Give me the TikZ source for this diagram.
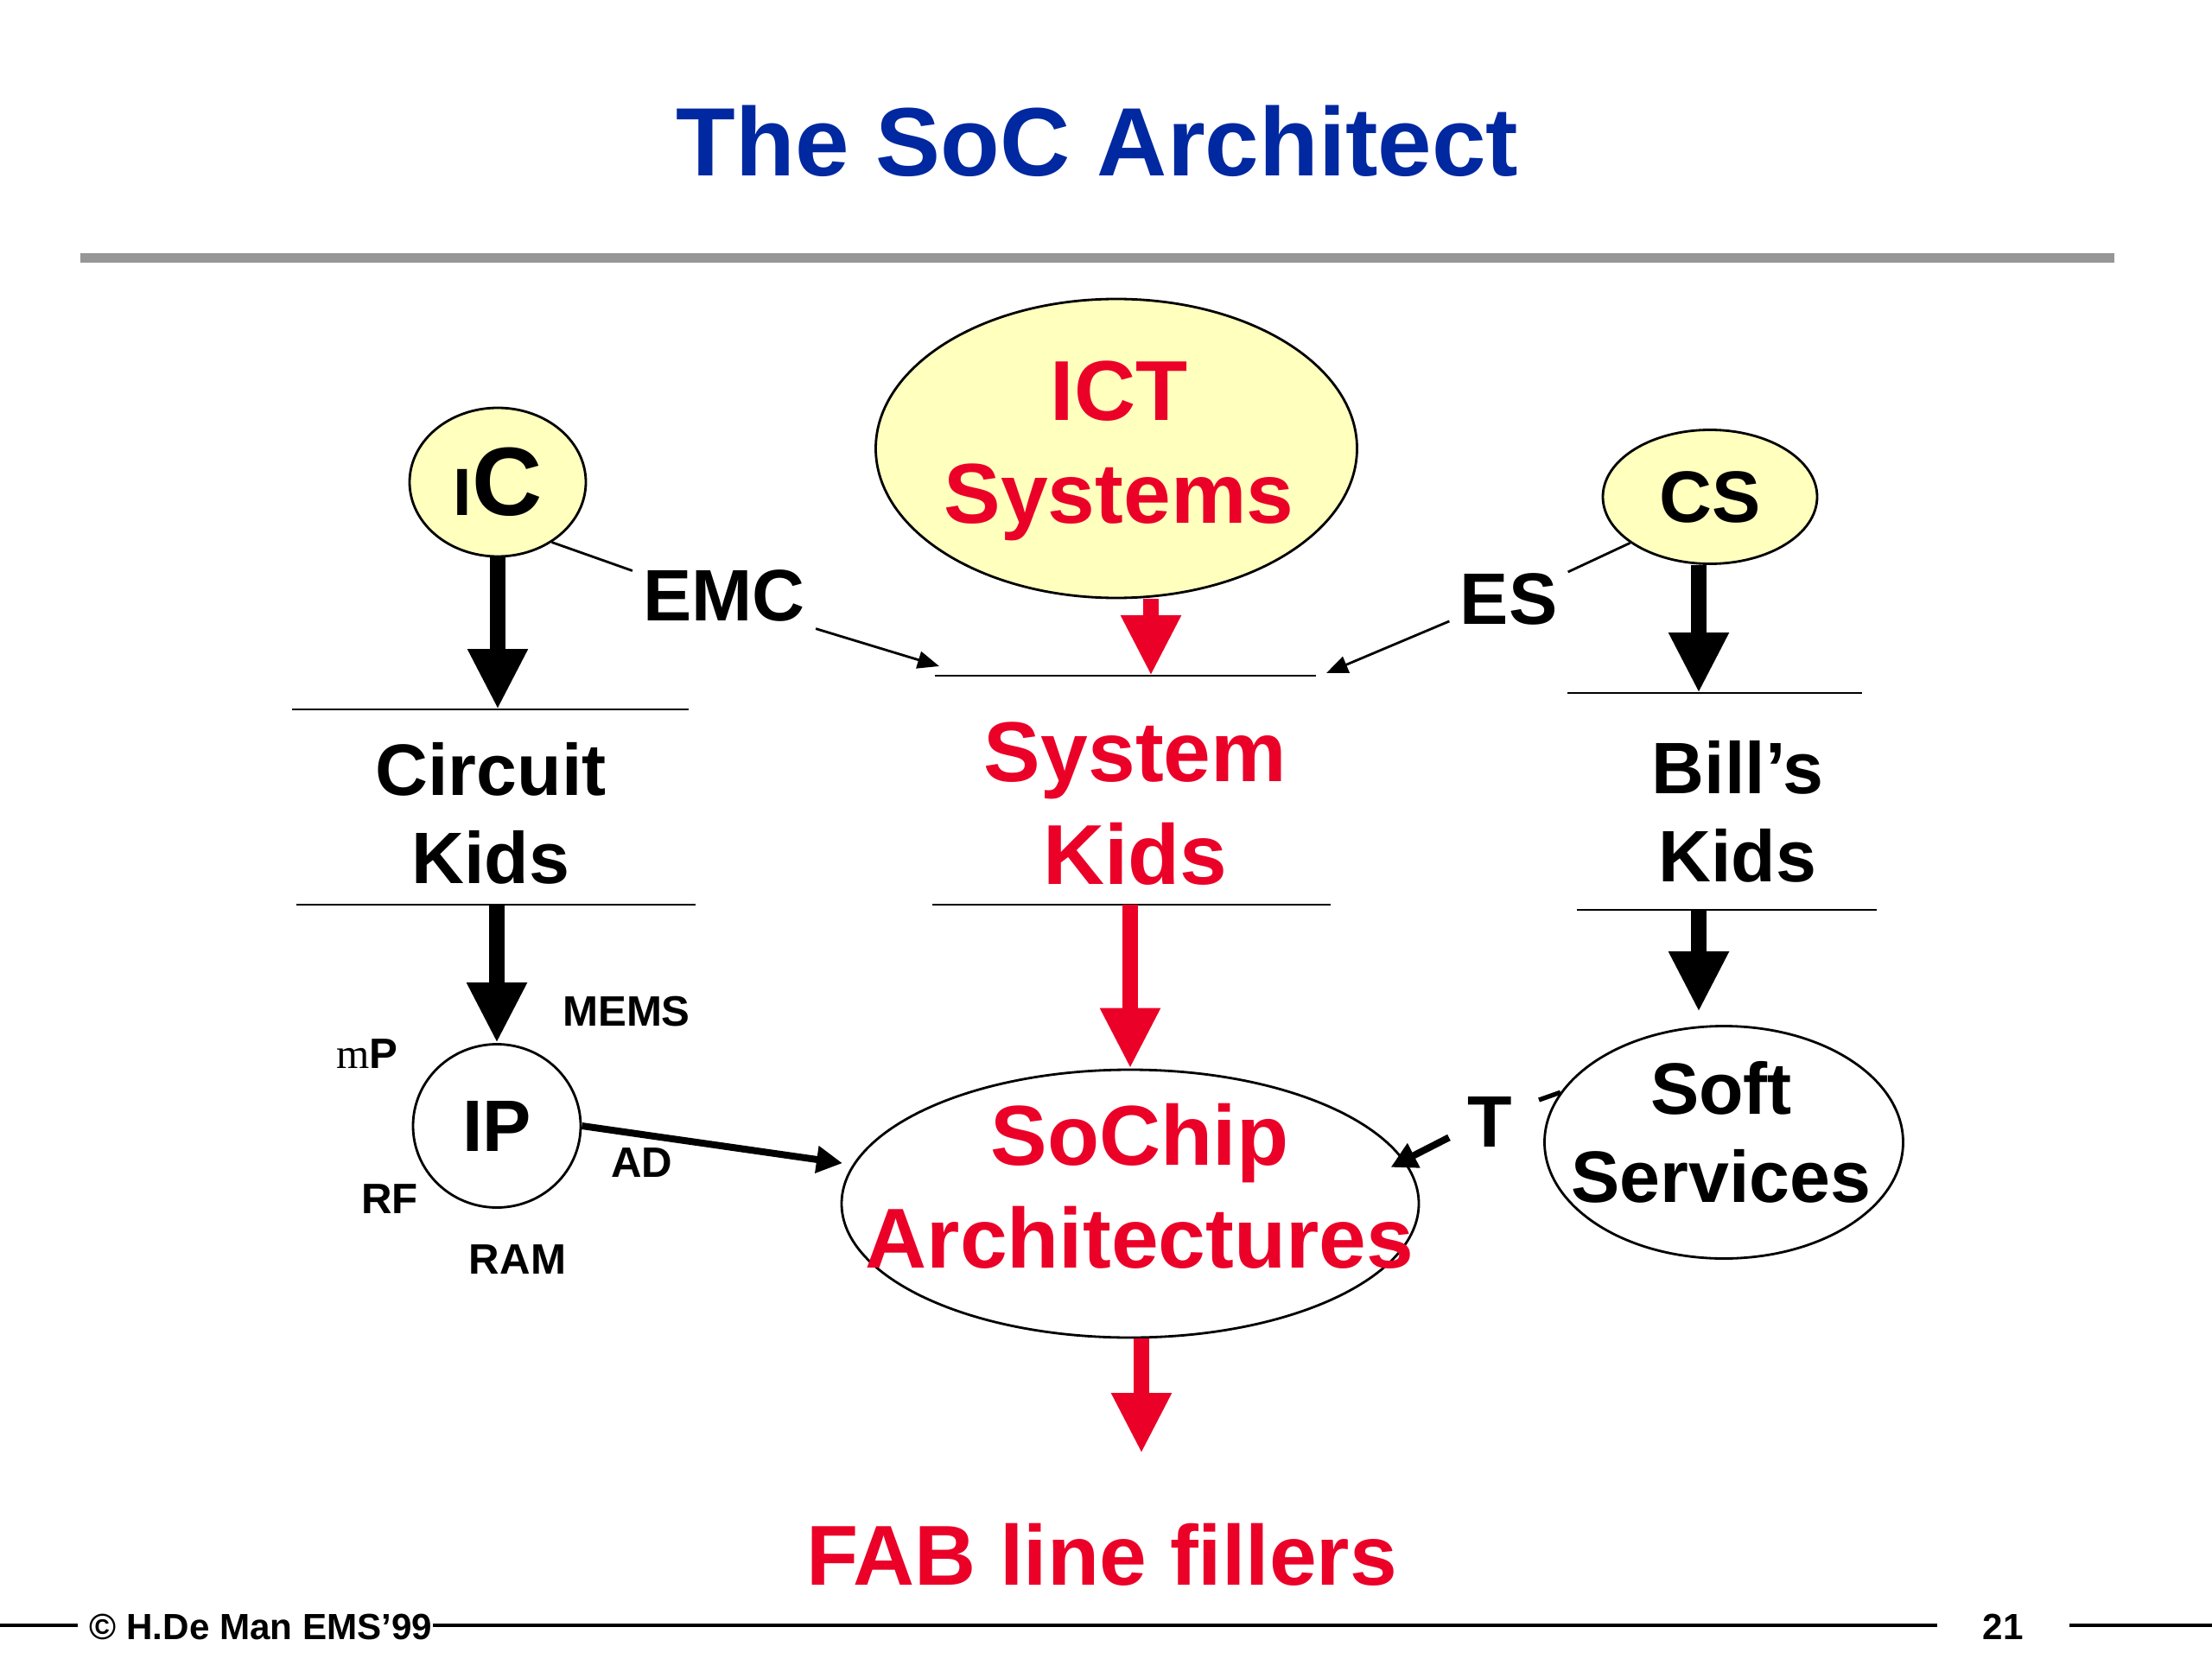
\documentclass[tikz,border=0pt]{standalone}
\usepackage{fontspec}
\setmainfont{Liberation Sans}
\newfontfamily\serifm{Liberation Serif}
\usetikzlibrary{positioning,arrows.meta,shapes.geometric}
\definecolor{titleblue}{RGB}{0,40,160}
\definecolor{kidred}{RGB}{235,0,40}
\definecolor{ovalyellow}{RGB}{255,255,190}
\definecolor{rulegray}{RGB}{150,150,150}
\tikzset{
  oval/.style  = {draw, ellipse, inner sep=0pt, line width=0.8pt, align=center},
  yoval/.style = {oval, fill=ovalyellow},
  big/.style   = {font=\fontsize{28}{34}\selectfont\bfseries, align=center},
  mid/.style   = {font=\fontsize{24}{29}\selectfont\bfseries, align=center},
  small/.style = {font=\fontsize{14}{17}\selectfont\bfseries, anchor=base, inner sep=0pt},
  rule/.style  = {line width=0.8pt},
  fat/.style   = {line width=0.18cm, -{Triangle[width=0.65cm,length=0.7cm]}},
  thin/.style  = {line width=0.8pt, -{Triangle[width=0.2cm,length=0.25cm]}},
  med/.style   = {line width=0.08cm, -{Triangle[width=0.3cm,length=0.3cm]}},
}

\begin{document}
\begin{tikzpicture}
  \useasboundingbox (0,0) rectangle (25.6,-19.2);
  \fill[white] (0,0) rectangle (25.6,-19.2);

  % title and rule
  \node[font=\fontsize{32}{38}\selectfont\bfseries, text=titleblue, anchor=base] (title) at (12.70,-2.04) {The SoC Architect};
  \coordinate (grayL) at (0.93,-2.99);
  \coordinate (grayR) at (24.47,-2.99);
  \draw[rulegray, line width=0.11cm] (grayL) -- (grayR);

  % sources
  \node[yoval, font=\fontsize{32}{38}\selectfont\bfseries, minimum width=2.04cm, minimum height=1.72cm] (IC) at (5.76,-5.58) {{\fontsize{22}{26}\selectfont I}C};
  \node[yoval, minimum width=5.57cm, minimum height=3.46cm] (ICT) at (12.92,-5.19) {};
  \node[big, text=kidred] (ictText) at (12.95,-5.22) {ICT\\Systems};
  \node[yoval, mid, minimum width=2.48cm, minimum height=1.55cm] (CS) at (19.79,-5.75) {CS};
  \node[mid, anchor=base] (EMC) at (8.38,-7.18) {EMC};
  \node[mid, anchor=base] (ES) at (17.46,-7.23) {ES};

  % the kids, between rules
  \coordinate (ckTL) at (3.38,-8.21);  \coordinate (ckTR) at (7.97,-8.21);
  \coordinate (ckBL) at (3.43,-10.47); \coordinate (ckBR) at (8.05,-10.47);
  \coordinate (skTL) at (10.82,-7.82); \coordinate (skTR) at (15.23,-7.82);
  \coordinate (skBL) at (10.79,-10.47); \coordinate (skBR) at (15.40,-10.47);
  \coordinate (bkTL) at (18.14,-8.02); \coordinate (bkTR) at (21.55,-8.02);
  \coordinate (bkBL) at (18.25,-10.53); \coordinate (bkBR) at (21.72,-10.53);
  \draw[rule] (ckTL) -- (ckTR); \draw[rule] (ckBL) -- (ckBR);
  \draw[rule] (skTL) -- (skTR); \draw[rule] (skBL) -- (skBR);
  \draw[rule] (bkTL) -- (bkTR); \draw[rule] (bkBL) -- (bkBR);
  \node[mid] (ck) at (5.68,-9.41) {Circuit\\Kids};
  \node[big, text=kidred] (sk) at (13.14,-9.30) {System\\Kids};
  \node[mid] (bk) at (20.11,-9.39) {Bill’s\\Kids};

  % lower row
  \node[oval, mid, minimum width=1.94cm, minimum height=1.89cm] (IP) at (5.75,-13.03) {IP};
  \node[oval, minimum width=6.68cm, minimum height=3.10cm] (soc) at (13.08,-13.93) {};
  \node[big, text=kidred] (socText) at (13.19,-13.73) {SoChip\\Architectures};
  \node[oval, minimum width=4.15cm, minimum height=2.69cm] (soft) at (19.95,-13.22) {};
  \node[mid] (softText) at (19.92,-13.10) {Soft\\Services};
  \node[mid, anchor=base] (T) at (17.24,-13.27) {T};
  \node[big, text=kidred, anchor=base] (fab) at (12.75,-18.34) {FAB line fillers};

  % IP labels
  \node[small] (mems) at (7.25,-11.87) {MEMS};
  \node[small] (mup) at (4.25,-12.36) {{\serifm\mdseries m}P};
  \node[small] (rf) at (4.51,-14.04) {RF};
  \node[small] (ad) at (7.43,-13.62) {AD};
  \node[small] (ram) at (5.99,-14.74) {RAM};

  % connectors
  \coordinate (ictIn) at (13.32,-7.82);
  \coordinate (bkIn) at (19.66,-8.02);
  \coordinate (fabIn) at (13.21,-16.82);
  \coordinate (tEnd) at (17.81,-12.73);
  \draw[fat] (IC.south) -- (IC.south |- ckTL);
  \draw[fat] (IP.north |- ckBL) -- (IP.north);
  \draw[fat, kidred] (ictIn |- ICT.south) -- (ictIn);
  \draw[fat, kidred] (soc.north |- skBL) -- (soc.north);
  \draw[fat, kidred] (fabIn |- soc.south) -- (fabIn);
  \draw[fat] (bkIn |- CS.south) -- (bkIn);
  \draw[fat, shorten >=0.15cm] (bkIn |- bkBL) -- (bkIn |- soft.north);
  \draw[rule] (IC.-48) -- (EMC.165);
  \draw[thin] (EMC.-20) -- ([shift={(0.05,0.11)}]skTL);
  \draw[rule] (CS.210) -- (ES.25);
  \draw[thin] (ES.200) -- ([shift={(0.12,0.03)}]skTR);
  \draw[line width=1.5pt] (soft.163) -- (tEnd);
  \draw[med, shorten <=0.1cm, shorten >=-0.18cm] (T.200) -- (soc.9);
  \draw[med, shorten >=0.12cm] (IP.east) -- (soc.172);

  % footer
  \node[font=\fontsize{12}{14}\selectfont\bfseries, anchor=base west, inner sep=0pt] (foot) at (1.03,-18.97) {© H.De Man EMS’99};
  \node[font=\fontsize{12}{14}\selectfont\bfseries, anchor=base, inner sep=0pt] (page) at (23.18,-18.97) {21};
  \coordinate (fL) at (0,-18.81);
  \coordinate (fR) at (25.6,-18.81);
  \draw[line width=1pt] (fL) -- ([xshift=-0.13cm]fL -| foot.west);
  \draw[line width=1pt] (fL -| foot.east) -- ([xshift=-0.52cm]fL -| page.west);
  \draw[line width=1pt] ([xshift=0.53cm]fL -| page.east) -- (fR);
\end{tikzpicture}
\end{document}
